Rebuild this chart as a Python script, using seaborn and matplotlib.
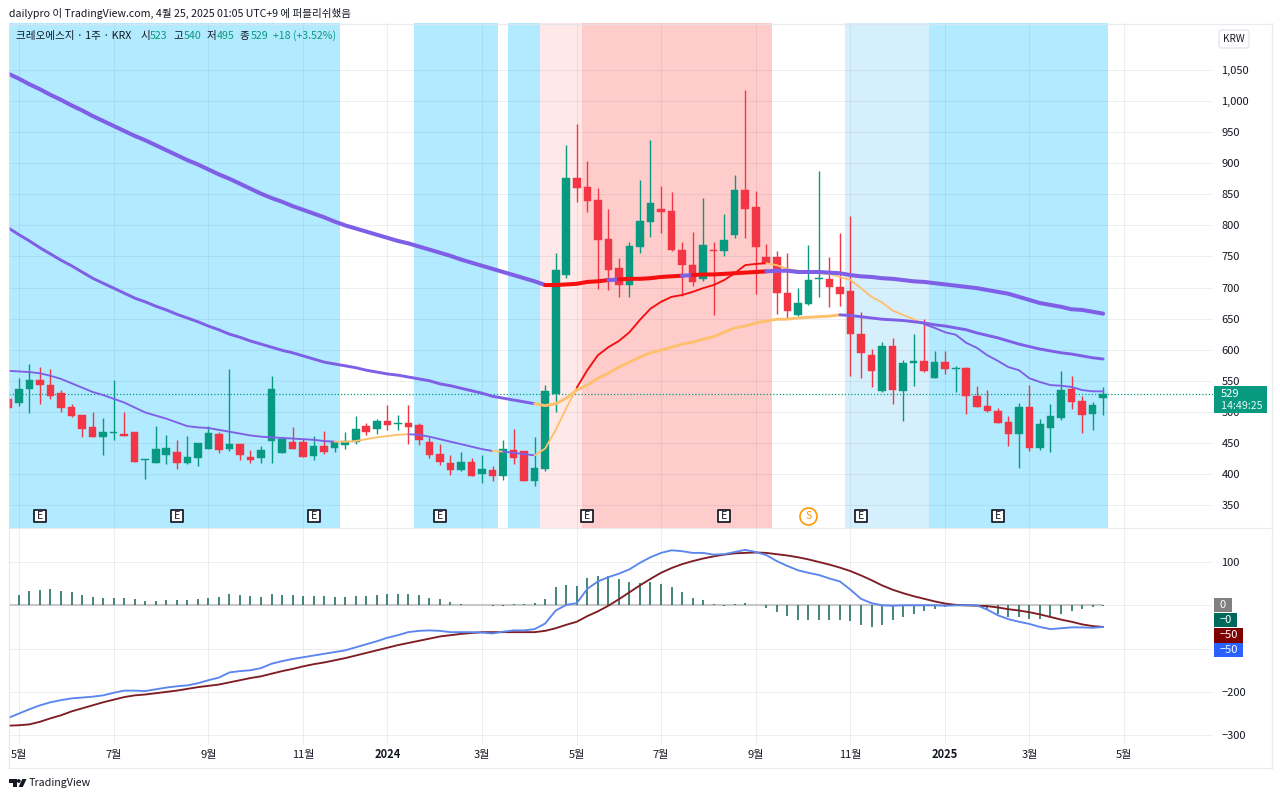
import numpy as np
import pandas as pd
import matplotlib
matplotlib.use("Agg")
import matplotlib.pyplot as plt
from matplotlib.patches import Rectangle, FancyBboxPatch, Polygon, Circle
import seaborn as sns

open_ = [520,515,537,551,543,530,507,495,476,460,466,465,468,423,417,431,435,418,426,441,464,440,448,427,426,453,434,451,451,429,445,442,447,452,477,472,485,481,482,479,451,432,417,406,419,400,407,397,439,437,389,408,529,720,876,861,841,778,731,704,766,806,826,823,760,737,714,760,759,784,857,830,749,749,691,655,673,713,714,701,694,625,591,533,606,533,578,582,555,580,569,571,526,510,502,484,464,508,442,474,490,537,517,496,523]
close = [506,536,551,543,526,506,493,472,460,468,468,461,420,424,440,442,418,427,450,466,439,448,431,423,439,536,456,440,428,445,436,451,453,473,468,485,479,482,476,454,431,420,406,419,396,408,397,441,426,389,409,534,728,876,860,840,777,728,704,767,807,836,822,760,736,709,768,758,776,857,826,766,739,691,663,675,712,715,701,690,625,595,566,606,535,579,582,566,580,569,571,526,508,502,482,464,508,442,480,493,535,516,495,511,529]
high = [525,555,577,572,569,535,512,495,499,490,551,499,468,424,477,463,455,461,450,477,467,569,448,439,445,558,456,476,457,461,469,451,468,493,482,489,511,495,511,482,459,448,431,435,426,430,413,454,472,437,460,543,756,929,963,904,860,826,747,773,873,937,863,853,773,789,844,773,819,881,1018,855,770,758,755,700,768,888,749,787,815,661,601,613,619,583,625,650,598,598,574,572,541,535,506,493,515,543,488,513,565,558,525,516,540]
low = [500,510,498,513,521,499,491,460,460,431,454,461,420,392,417,416,408,416,413,441,434,437,423,417,418,417,434,440,428,423,432,435,440,448,462,464,470,471,448,447,425,415,398,405,396,385,388,391,416,388,381,405,499,716,838,821,698,696,685,685,756,782,788,758,687,703,711,656,751,779,780,690,739,657,650,654,672,685,669,671,558,554,540,532,513,485,542,564,555,561,532,496,507,499,482,445,410,437,439,436,487,505,466,470,495]

ma_long = [1044,1036,1027,1019,1010,1002,993,985,976,968,960,952,944,937,929,921,913,905,898,890,882,875,867,859,851,844,838,831,825,819,813,806,800,795,790,785,780,775,771,766,761,756,751,745,740,735,730,725,720,715,710,704,704,705,706,709,710,712,713,714,714,715,717,718,719,720,721,721,722,723,724,725,726,727,727,725,725,725,724,723,720,718,717,715,714,712,710,709,707,705,703,701,699,696,693,690,685,680,675,672,669,665,664,661,658]
ma_mid = [796,785,775,764,754,744,735,725,715,707,699,691,683,677,670,664,657,651,645,638,632,625,620,614,609,604,599,595,590,585,580,577,574,571,567,564,561,559,556,553,550,545,542,538,534,530,525,522,519,516,513,510,513,522,535,543,554,562,572,580,588,595,599,604,609,612,617,621,628,635,638,643,646,649,649,651,652,653,654,656,655,653,651,649,648,647,645,643,640,638,635,632,627,623,619,614,609,605,601,598,595,593,590,587,585]
ma_short = [566,565,564,562,558,553,546,539,532,527,521,515,507,499,494,489,483,477,475,474,471,468,465,462,460,459,458,457,456,455,453,452,452,453,456,459,461,463,464,463,460,456,452,448,444,440,437,436,434,432,430,441,471,506,539,567,591,604,614,628,648,666,677,685,688,693,699,704,712,723,736,738,739,736,730,727,725,723,722,717,712,699,685,676,663,656,649,641,635,628,624,611,603,591,582,572,567,554,548,543,542,540,535,533,533]

macd = [-260,-250,-240,-231,-224,-219,-215,-213,-211,-208,-202,-197,-197,-198,-194,-190,-187,-185,-180,-173,-167,-155,-152,-150,-145,-135,-129,-124,-120,-116,-112,-108,-104,-97,-90,-83,-75,-69,-62,-59,-58,-59,-62,-62,-62,-63,-65,-61,-58,-58,-55,-42,-12,1,5,38,55,65,73,83,98,111,121,127,125,121,121,117,118,123,128,123,116,102,91,81,75,70,62,55,36,15,5,0,-1,0,0,0,0,-1,0,0,0,-10,-23,-32,-38,-43,-50,-55,-53,-51,-51,-52,-50]
signal = [-278,-277,-275,-269,-261,-254,-245,-238,-231,-224,-218,-212,-208,-206,-203,-200,-197,-193,-189,-186,-183,-178,-173,-168,-164,-158,-152,-147,-141,-136,-132,-127,-122,-116,-110,-104,-98,-92,-87,-82,-77,-72,-69,-66,-64,-62,-62,-62,-62,-62,-62,-59,-53,-45,-38,-25,-14,-1,14,30,46,61,75,86,95,102,108,113,117,120,121,122,121,118,115,111,106,100,94,87,79,69,58,46,36,28,21,15,9,4,1,0,-1,-2,-5,-9,-12,-16,-21,-27,-33,-38,-44,-48,-50]
hist = [22,23,32,36,38,34,30,23,19,18,17,18,14,9,10,12,12,12,14,18,19,25,23,22,19,25,23,23,22,22,22,19,19,22,22,23,25,25,25,23,18,14,7,3,1,0,-2,-1,2,2,5,15,42,48,44,64,68,67,60,54,52,53,49,42,30,17,12,2,-1,2,5,0,-6,-15,-25,-33,-33,-33,-33,-33,-36,-46,-51,-46,-35,-28,-20,-14,-8,-5,-2,-1,-2,-10,-19,-27,-28,-31,-32,-28,-20,-13,-8,-5,-2]

band_edges = [(-0.5,31.5,"cyan"),(38.5,46.5,"cyan"),(47.5,50.5,"cyan"),(50.5,54.5,"pale_red"),(54.5,72.5,"red"),(79.5,87.5,"pale_blue"),(87.5,104.5,"cyan")]
band_colors = {"cyan":"#B2EBFF","pale_red":"#FFE8E8","red":"#FFCCCC","pale_blue":"#D6EFFC"}

long_runs = [(0,51,"p"),(51,57,"r"),(57,58,"p"),(58,64,"r"),(64,65,"p"),(65,72,"r"),(72,104,"p")]
mid_runs = [(0,50,"p"),(50,79,"o"),(79,104,"p")]
short_runs = [(0,31,"p"),(31,38,"o"),(38,46,"p"),(46,47,"o"),(47,50,"p"),(50,54,"o"),(54,72,"r"),(72,87,"o"),(87,104,"p")]
line_colors = {"p":"#7E5FE6","r":"#F50F0F","o":"#FFC06E"}

price_ticks = list(range(350,1051,50))
macd_ticks = [100,0,-100,-200,-300]
macd_tick_labels = ["100","","","\u2212200","\u2212300"]
month_pos = [1,10,19,28,36,45,54,62,71,80,89,97,106]
month_labels = ["5월","7월","9월","11월","2024","3월","5월","7월","9월","11월","2025","3월","5월"]
earn_pos = [3,16,29,41,55,68,81,94]
split_pos = [76]

sns.set_theme(style="white")
plt.rcParams["font.family"] = ["Noto Sans CJK KR","DejaVu Sans"]

W, H = 1280, 799
GREEN, RED = "#089981", "#F23645"
TEXT = "#131722"
BORDER = "#E0E3EB"

fig = plt.figure(figsize=(W/100,H/100),dpi=100,facecolor="white")
def axes_px(l,t,r,b):
    return fig.add_axes([l/W,1-b/H,(r-l)/W,(b-t)/H])

ax = axes_px(9,23,1213,528)
ax2 = axes_px(9,528,1213,745)

df = pd.DataFrame({"i":np.arange(len(open_)),"open":open_,"close":close,"high":high,"low":low,
                   "ma_long":ma_long,"ma_mid":ma_mid,"ma_short":ma_short,
                   "macd":macd,"signal":signal,"hist":hist})
XLIM = (0.06,114.44)

for a in (ax,ax2):
    a.set_xlim(*XLIM)
    a.set_facecolor("white")
    for s in a.spines.values():
        s.set_visible(False)
    a.set_xticks(month_pos)
    a.grid(True,color="#29335A",alpha=0.075,lw=0.75)
    a.set_axisbelow(True)
    a.yaxis.tick_right()
    a.tick_params(axis="both",length=0,labelcolor=TEXT,labelsize=8.0)
    a.tick_params(axis="y",pad=6)

ax.set_ylim(313.1,1125.6)
ax.set_yticks(price_ticks)
ax.set_yticklabels([f"{v:,}" for v in price_ticks])
ax.tick_params(axis="x",labelbottom=False)
ax2.set_ylim(-322.6,178.5)
ax2.set_yticks(macd_ticks)
ax2.set_yticklabels(macd_tick_labels)
ax2.set_xticklabels(month_labels)
ax2.tick_params(axis="x",pad=9.2)
for lab,txt in zip(ax2.get_xticklabels(),month_labels):
    lab.set_verticalalignment("baseline")
    if txt in ("2024","2025"):
        lab.set_fontweight("bold")

for s,e,c in band_edges:
    ax.axvspan(s,e,color=band_colors[c],lw=0,zorder=0)

ax.axhline(close[-1],color=GREEN,lw=0.9,ls=(0,(1,1.6)),zorder=2.5)

up = df["close"]>=df["open"]
cols = np.where(up,GREEN,RED)
ax.vlines(df["i"],df["low"],df["high"],colors=cols,lw=1.0,zorder=3)
bot = df[["open","close"]].min(axis=1)
top = df[["open","close"]].max(axis=1)
ax.bar(df["i"],top-bot,bottom=bot,width=0.72,color=cols,edgecolor=cols,lw=0.3,zorder=3.2)

def draw(axis,col,runs,lw):
    for s,e,c in runs:
        part = df.iloc[s:e+1]
        sns.lineplot(data=part,x="i",y=col,ax=axis,color=line_colors[c],lw=lw,
                     estimator=None,sort=False,legend=False,zorder=4)
draw(ax,"ma_short",short_runs,1.35)
draw(ax,"ma_mid",mid_runs,2.1)
draw(ax,"ma_long",long_runs,2.9)
ax.set_xlabel("");ax.set_ylabel("")

yax = ax.get_xaxis_transform()
badge_y = (528-516)/505
ax.scatter(earn_pos,[badge_y]*len(earn_pos),transform=yax,marker="s",s=84,fc="white",ec=TEXT,lw=1.25,zorder=6)
ax.scatter(split_pos,[badge_y]*len(split_pos),transform=yax,marker="o",s=150,fc="white",ec="#FF9800",lw=1.2,zorder=6)
for p in earn_pos:
    ax.text(p,badge_y,"E",transform=yax,ha="center",va="center",fontsize=7.6,color=TEXT,zorder=7)
for p in split_pos:
    ax.text(p,badge_y,"S",transform=yax,ha="center",va="center",fontsize=7.6,color="#FF9800",zorder=7)

ax2.hlines(0,df["i"].iloc[0],df["i"].iloc[-1],color="#C8C8C8",lw=1.5,zorder=2)
ax2.vlines(df["i"],0,df["hist"],colors="#1B6B5E",lw=1.15,zorder=3)
sns.lineplot(data=df,x="i",y="signal",ax=ax2,color="#7F1D24",lw=1.35,estimator=None,sort=False,legend=False,zorder=4)
sns.lineplot(data=df,x="i",y="macd",ax=ax2,color="#5A86EE",lw=1.35,estimator=None,sort=False,legend=False,zorder=5)
ax2.set_xlabel("");ax2.set_ylabel("")

ov = fig.add_axes([0,0,1,1],zorder=20)
ov.set_xlim(0,W);ov.set_ylim(H,0);ov.axis("off");ov.patch.set_alpha(0)

for xs,ys in [((9,1272),(23.5,23.5)),((9,1272),(528,528)),((9,1272),(768,768)),((9,9),(23,768)),((1272,1272),(23,768))]:
    ov.plot(xs,ys,color=BORDER,lw=0.9,alpha=0.7)

ov.text(9,13,"dailypro 이 TradingView.com, 4월 25, 2025 01:05 UTC+9 에 퍼블리쉬했음",fontsize=7.63,color=TEXT,va="center")
ov.text(16,36,"크레오에스지 · 1주 · KRX",fontsize=7.65,color=TEXT,va="center")
for x,t,c in [(141,"시",TEXT),(150,"523",GREEN),(174,"고",TEXT),(184,"540",GREEN),(207,"저",TEXT),(217,"495",GREEN),(240,"종",TEXT),(251,"529",GREEN),(273,"+18 (+3.52%)",GREEN)]:
    ov.text(x,36,t,fontsize=7.65,color=c,va="center")

ov.add_patch(FancyBboxPatch((1219,30),30,18,boxstyle="round,pad=0,rounding_size=3",fc="white",ec=BORDER,lw=0.9))
ov.text(1234,39,"KRW",fontsize=7.2,color=TEXT,ha="center",va="center")

ov.add_patch(Rectangle((1214,386),53,27,fc=GREEN,ec="none"))
ov.text(1221,394,"529",fontsize=8.0,color="white",va="center")
ov.text(1221,406,"14:49:25",fontsize=7.7,color="white",va="center",alpha=0.9)

for (x0,y0,x1,y1,c,t) in [(1214,598,1232,612,"#808080","0"),(1214,613,1237,627,"#00695C","\u22120"),
                          (1214,628,1243,643,"#7F0000","\u221250"),(1214,643,1243,657,"#2962FF","\u221250")]:
    ov.add_patch(Rectangle((x0,y0),x1-x0,y1-y0,fc=c,ec="none"))
    ov.text(1220,(y0+y1)/2,t,fontsize=8.0,color="white",va="center")

ov.add_patch(Polygon([(9,779),(16.5,779),(16.5,787),(12.5,787),(12.5,782.5),(9,782.5)],fc=TEXT,ec="none"))
ov.add_patch(Circle((18.8,781),1.9,fc=TEXT,ec="none"))
ov.add_patch(Polygon([(22.3,779),(26.5,779),(22.8,787),(18.6,787)],fc=TEXT,ec="none"))
ov.text(29,783.5,"TradingView",fontsize=7.7,color=TEXT,va="center")

fig.savefig("out.png",dpi=100,facecolor="white")
